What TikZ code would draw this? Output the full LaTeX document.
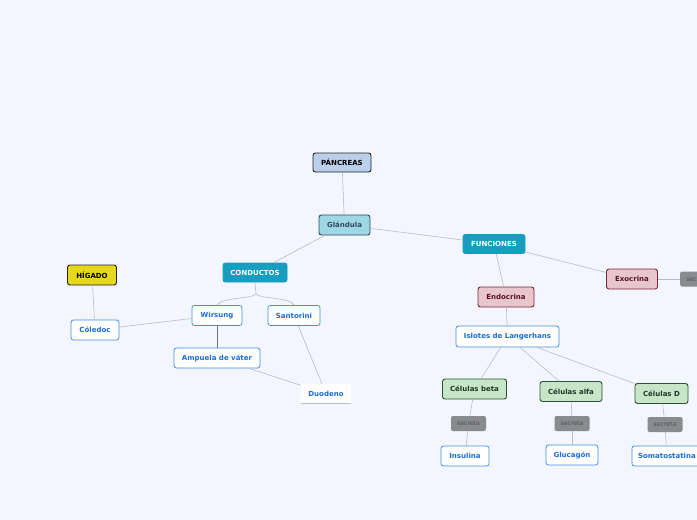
\documentclass[tikz,border=0pt]{standalone}
\usepackage{fontspec}
\setmainfont{DejaVu Sans}
\begin{document}
\begin{tikzpicture}[x=1pt,y=-1pt,
  every node/.style={inner sep=0pt, font=\bfseries\fontsize{7}{8}\selectfont},
  base/.style={rounded corners=2.5pt, minimum height=20pt, line width=0.9pt},
  rootbox/.style={base, fill=rootfill, draw=rootline, text=black},
  glbox/.style={base, fill=glfill, draw=glline, text=glline},
  tealbox/.style={base, fill=teal1, draw=teal1, text=white, minimum height=19pt},
  yelbox/.style={base, fill=yel, draw=rootline, text=black},
  bluebox/.style={base, fill=white, draw=blueline, text=bluetext, line width=0.8pt},
  pinkbox/.style={base, fill=pinkfill, draw=pinkline, text=pinktext},
  greenbox/.style={base, fill=greenfill, draw=greenline, text=greentext},
  secbox/.style={rounded corners=2pt, fill=secfill, text=sectext, minimum height=15pt, minimum width=35pt, font=\fontsize{6.2}{7}\selectfont},
  link/.style={draw=linkc, line width=0.6pt},
]
\definecolor{bg}{HTML}{F3F6FE}
\definecolor{rootfill}{HTML}{BCCFEA}
\definecolor{rootline}{HTML}{222222}
\definecolor{glfill}{HTML}{9ED6E4}
\definecolor{glline}{HTML}{2D4B5C}
\definecolor{teal1}{HTML}{169DBF}
\definecolor{yel}{HTML}{E6D61C}
\definecolor{blueline}{HTML}{3F8FE8}
\definecolor{bluetext}{HTML}{1B6DD6}
\definecolor{pinkfill}{HTML}{E7C6CC}
\definecolor{pinkline}{HTML}{7A2236}
\definecolor{pinktext}{HTML}{5C1024}
\definecolor{greenfill}{HTML}{C7E6C8}
\definecolor{greenline}{HTML}{2E5238}
\definecolor{greentext}{HTML}{1E3826}
\definecolor{secfill}{HTML}{8A8B8F}
\definecolor{sectext}{HTML}{505055}
\definecolor{linkc}{HTML}{B9BDC9}
\definecolor{darklink}{HTML}{707378}
\fill[bg] (0,0) rectangle (697,520);
\useasboundingbox (0,0) rectangle (697,520);

\node[rootbox, minimum width=58pt, minimum height=19pt] (pan) at (342,162.5) {PÁNCREAS};
\node[glbox, minimum width=51pt] (gla) at (344.5,225) {Glándula};
\node[tealbox, minimum width=62pt] (fun) at (494,244) {FUNCIONES};
\node[tealbox, minimum width=64pt] (con) at (255,272.5) {CONDUCTOS};
\node[yelbox, minimum width=49pt] (hig) at (92,275) {HÍGADO};
\node[bluebox, minimum width=48pt] (col) at (95,330) {Cóledoc};
\node[bluebox, minimum width=50pt] (wir) at (217,315.5) {Wirsung};
\node[bluebox, minimum width=52pt] (san) at (294,315.5) {Santorini};
\node[bluebox, minimum width=86pt] (amp) at (217,358) {Ampuela de váter};
\node[fill=white, minimum width=50pt, minimum height=19pt, text=bluetext] (duo) at (326,393.5) {Duodeno};
\draw[linkc, line width=0.8pt] (duo.south west) -- (duo.south east);
\node[pinkbox, minimum width=56pt] (endo) at (506,297) {Endocrina};
\node[pinkbox, minimum width=51pt] (exo) at (632,279) {Exocrina};
\node[secbox, anchor=west] (sec0) at (680,279) {secreta};
\node[bluebox, minimum width=103pt, minimum height=21pt] (isl) at (507.5,336.5) {Islotes de Langerhans};
\node[greenbox, minimum width=64pt] (beta) at (474.5,389) {Células beta};
\node[greenbox, minimum width=62pt] (alfa) at (571,391.5) {Células alfa};
\node[greenbox, minimum width=53pt] (celd) at (661.5,393.5) {Células D};
\node[secbox] (sec1) at (468.5,423.5) {secreta};
\node[secbox] (sec2) at (572,423.5) {secreta};
\node[secbox] (sec3) at (665,424.5) {secreta};
\node[bluebox, minimum width=48pt] (ins) at (465,456) {Insulina};
\node[bluebox, minimum width=52pt] (glu) at (572,455) {Glucagón};
\node[bluebox, minimum width=70pt, anchor=west] (som) at (631.5,456) {Somatostatina};

% connectors
\draw[link] (pan) -- (gla);
\draw[link] (gla) -- (con);
\draw[link] (gla) -- (fun);
\draw[link] (fun) -- (endo);
\draw[link] (fun) -- (exo);
\draw[link] (exo) -- (sec0);
\draw[link] (endo) -- (isl);
\draw[link] (isl) -- (beta);
\draw[link] (isl) -- (alfa);
\draw[link] (isl) -- (celd);
\draw[link] (beta) -- (sec1);
\draw[link] (sec1) -- (ins);
\draw[link] (alfa) -- (sec2);
\draw[link] (sec2) -- (glu);
\draw[link] (celd) -- (sec3);
\draw[link] (sec3) -- (som);
\coordinate (fork) at (256,294);
\draw[link] (con.south) -- (fork);
\draw[link] (fork) .. controls (252,299) and (222,297) .. (wir.north);
\draw[link] (fork) .. controls (260,299) and (290,297) .. (san.north);
\draw[link] (hig) -- (col);
\draw[link] (col) -- (wir);
\draw[draw=darklink, line width=1pt] (wir) -- (amp);
\draw[link] (amp) -- (duo);
\draw[link] (san) -- (duo);
\end{tikzpicture}
\end{document}
